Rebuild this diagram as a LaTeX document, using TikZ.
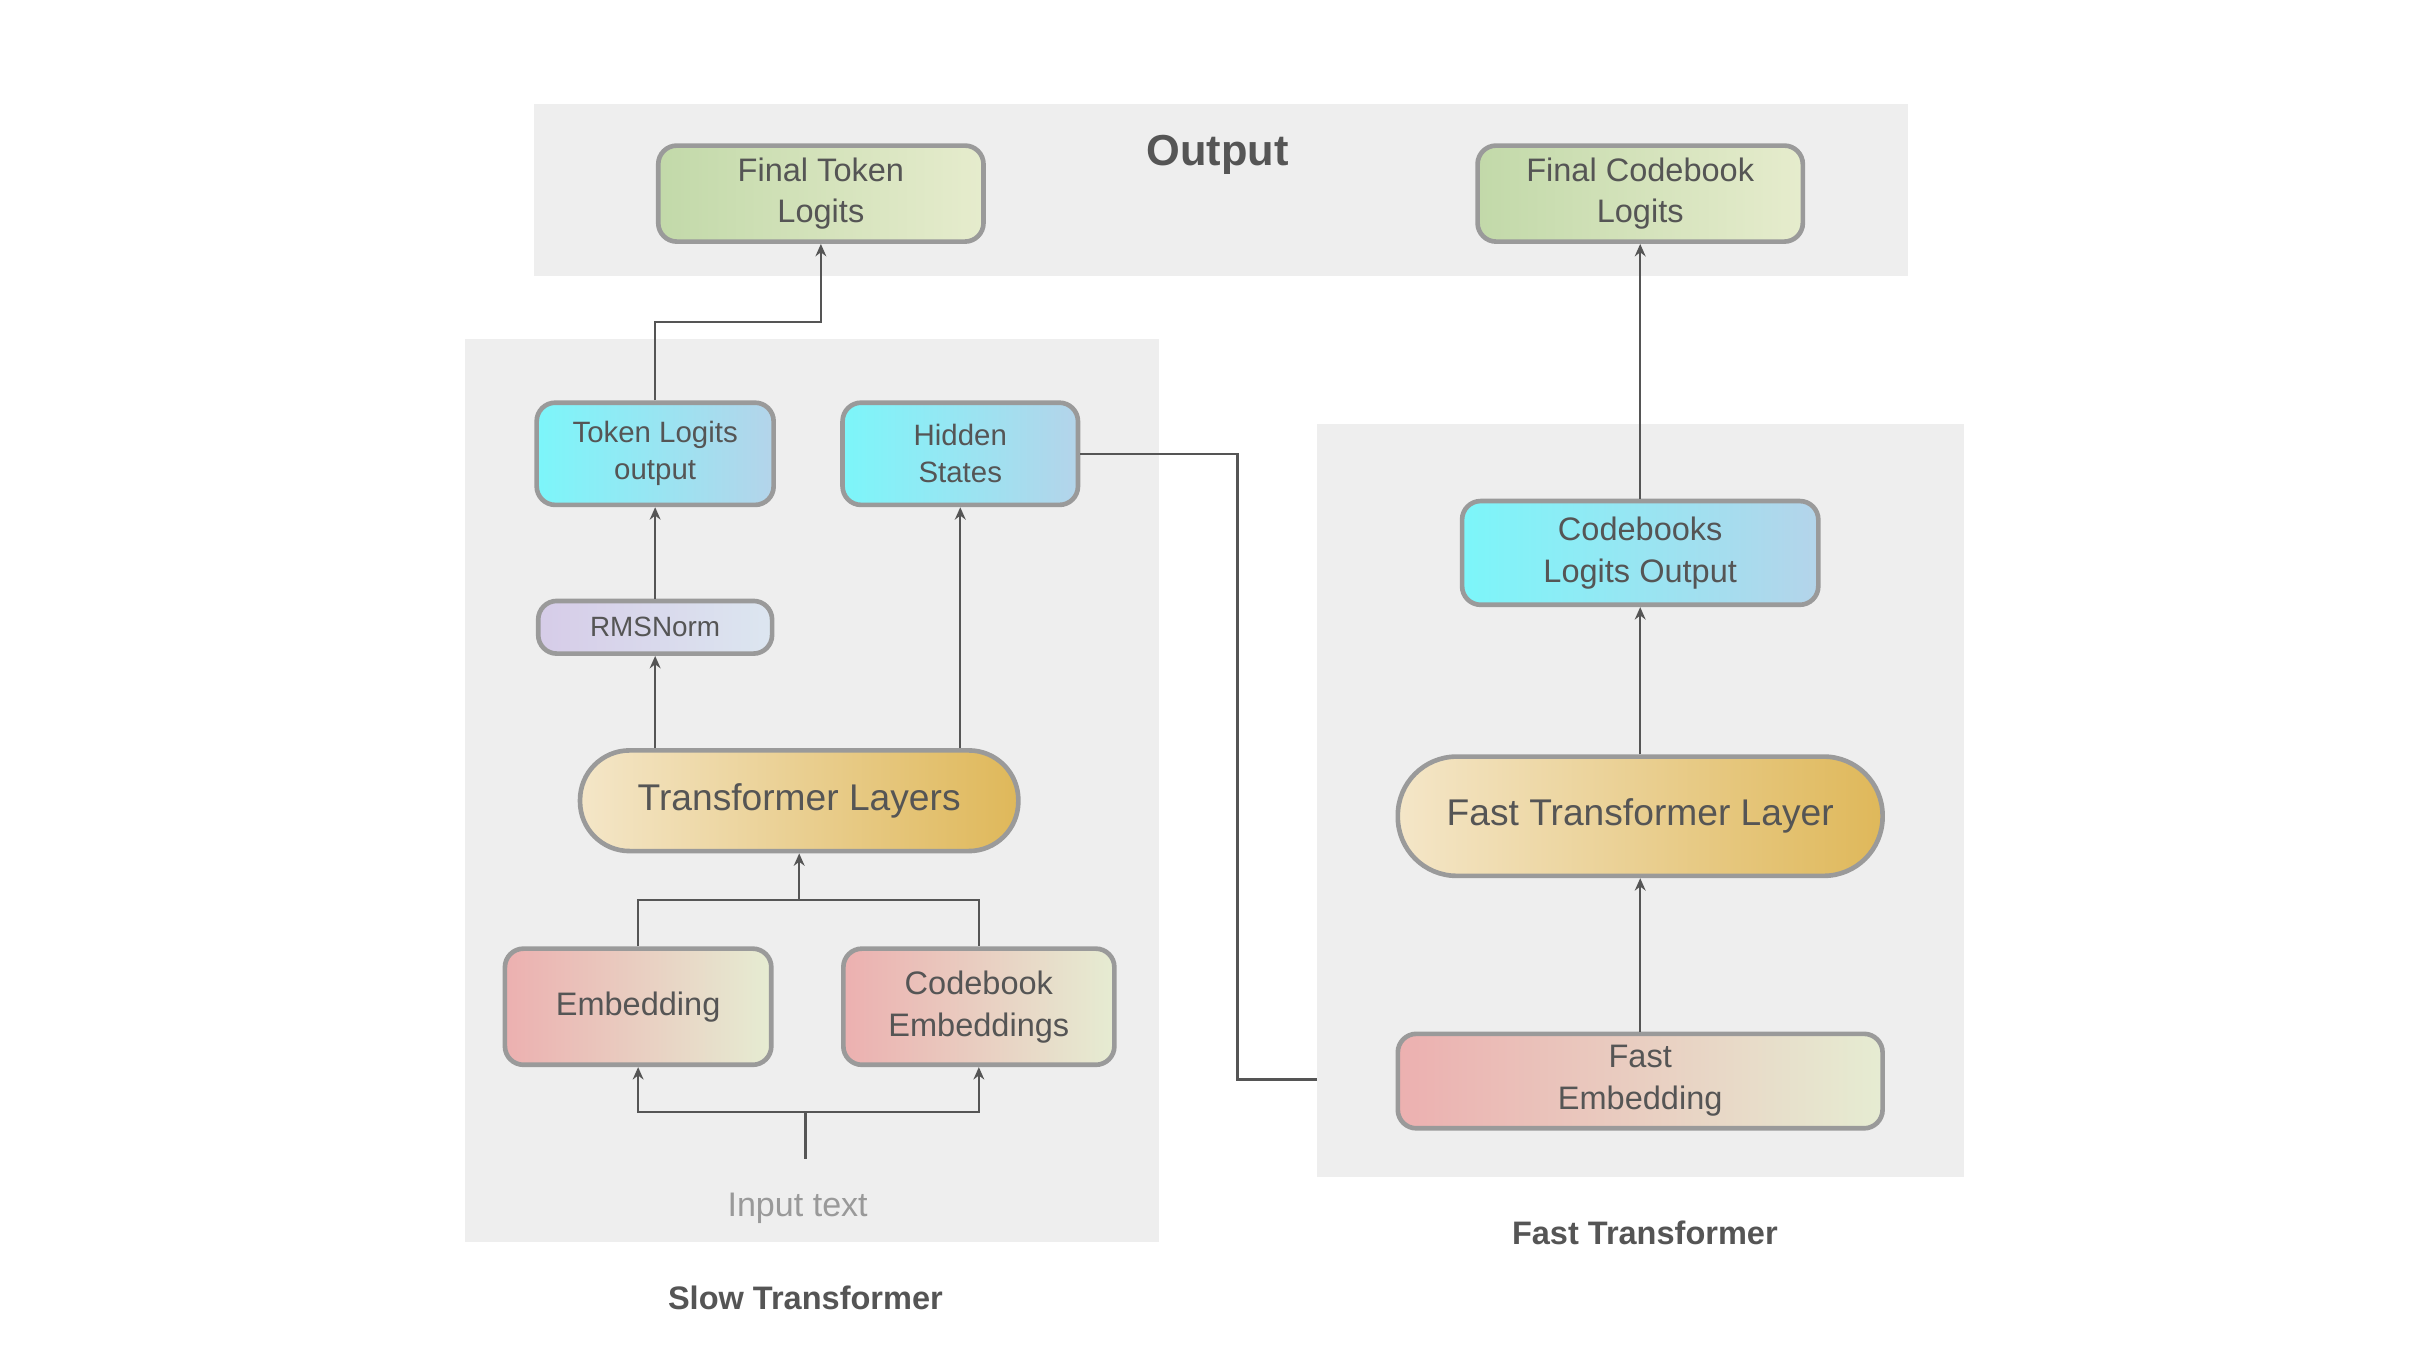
\documentclass[tikz,border=0pt]{standalone}
\usepackage{fontspec}
\setmainfont{Liberation Sans}
\usetikzlibrary{arrows.meta}
\definecolor{txt}{HTML}{555555}
\definecolor{bord}{HTML}{9A9A9A}
\definecolor{panel}{HTML}{EEEEEE}
\definecolor{gA}{HTML}{C2D9A9}\definecolor{gB}{HTML}{E6ECCD}
\definecolor{cA}{HTML}{7CF6FA}\definecolor{cB}{HTML}{B4D4EA}
\definecolor{lA}{HTML}{D6CCE8}\definecolor{lB}{HTML}{DCE6F0}
\definecolor{oA}{HTML}{F4E6C8}\definecolor{oB}{HTML}{DFB85A}
\definecolor{pA}{HTML}{ECB0B0}\definecolor{pB}{HTML}{E6ECD2}
\begin{document}
\begin{tikzpicture}[x=1pt,y=-1pt,
  box/.style={draw=bord,line width=3pt,rounded corners=12pt,text=txt,align=center,inner sep=0pt,font=\fontsize{21}{27}\selectfont},
  green/.style={box,left color=gA,right color=gB},
  cyan/.style={box,left color=cA,right color=cB},
  lav/.style={box,left color=lA,right color=lB,font=\fontsize{18}{22}\selectfont},
  gold/.style={box,rounded corners=32pt,left color=oA,right color=oB,font=\fontsize{24}{28}\selectfont},
  pink/.style={box,left color=pA,right color=pB},
  conn/.style={draw=txt,line width=1.5pt},
  arr/.style={conn,-{Stealth[length=8pt,width=7pt]}},
  lbl/.style={text=txt,font=\bfseries\fontsize{21}{25}\selectfont}]
\useasboundingbox (0,0) rectangle (1567,877);
\fill[panel] (345,67) rectangle (1232,178);
\fill[panel] (300,219) rectangle (748,802);
\fill[panel] (850,274) rectangle (1268,760);
\node[text=txt,font=\bfseries\fontsize{28}{32}\selectfont] (out) at (786,100) {Output};
\node[green,minimum width=210pt,minimum height=62pt] (ftl) at (530,125) {Final Token\\Logits};
\node[green,minimum width=210pt,minimum height=62pt] (fcl) at (1059,125) {Final Codebook\\Logits};
\node[cyan,minimum width=153pt,minimum height=66pt,font=\fontsize{19}{24}\selectfont] (tlo) at (423,293) {Token Logits\\output};
\node[cyan,minimum width=152pt,minimum height=66pt,font=\fontsize{19}{24}\selectfont] (hs) at (620,293) {Hidden\\States};
\node[lav,minimum width=151pt,minimum height=34pt] (rms) at (423,405) {RMSNorm};
\node[gold,minimum width=283pt,minimum height=65pt] (tl) at (516,517) {Transformer Layers};
\node[pink,minimum width=172pt,minimum height=75pt] (emb) at (412,650) {Embedding};
\node[pink,minimum width=175pt,minimum height=75pt] (cbe) at (632,650) {Codebook\\Embeddings};
\node[text=gray!80,font=\fontsize{22}{26}\selectfont] (inp) at (515,780) {Input text};
\coordinate (inTop) at (520,748);
\node[lbl] (slow) at (520,838) {Slow Transformer};
\node[cyan,minimum width=230pt,minimum height=67pt] (clo) at (1059,357) {Codebooks\\Logits Output};
\node[gold,minimum width=313pt,minimum height=77pt,rounded corners=38pt] (ftr) at (1059,527) {Fast Transformer Layer};
\node[pink,minimum width=313pt,minimum height=61pt] (femb) at (1059,698) {Fast\\Embedding};
\node[lbl] (fast) at (1062,796) {Fast Transformer};
\coordinate (fpEdge) at (850,697);
% connectors
\draw[conn] (inTop) -- (520,718);
\draw[arr] (520,718) -| (emb.south);
\draw[arr] (520,718) -| (cbe.south);
\draw[conn] (emb.north) |- (516,581) -| (cbe.north);
\draw[arr] (516,581) -- (tl.south);
\draw[arr] (tl.north -| rms.south) -- (rms.south);
\draw[arr] (rms.north) -- (tlo.south);
\draw[arr] (tl.north -| hs.south) -- (hs.south);
\draw[arr] (tlo.north) |- (530,208) -- (ftl.south);
\draw[conn] (hs.east) -- (799,293) |- (fpEdge);
\draw[arr] (femb.north) -- (ftr.south);
\draw[arr] (ftr.north) -- (clo.south);
\draw[arr] (clo.north) -- (fcl.south);
\end{tikzpicture}
\end{document}
